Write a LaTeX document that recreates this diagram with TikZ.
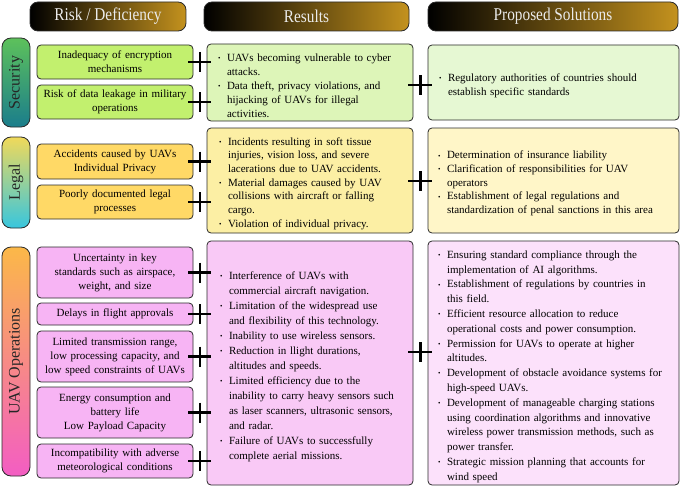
\documentclass[tikz,border=0pt]{standalone}
\usepackage{fontspec}
\setmainfont{Liberation Serif}
\newfontfamily\headfont[FakeStretch=0.85]{Liberation Serif}
\usetikzlibrary{calc}
\definecolor{rS}{HTML}{C2F06E}
\definecolor{mS}{HTML}{DDF5B8}
\definecolor{sS}{HTML}{E6F8D3}
\definecolor{rL}{HTML}{FFD966}
\definecolor{mL}{HTML}{FCEFA4}
\definecolor{sL}{HTML}{FFF6C8}
\definecolor{rU}{HTML}{F7B4F4}
\definecolor{mU}{HTML}{F9C9F6}
\definecolor{sU}{HTML}{FCE1FB}
\definecolor{gold}{HTML}{C4921E}
\definecolor{edge}{HTML}{2A2A2A}
\definecolor{bSt}{HTML}{5DC15B}
\definecolor{bSb}{HTML}{1A7D8C}
\definecolor{bLt}{HTML}{F0D95A}
\definecolor{bLb}{HTML}{38C6DE}
\definecolor{bUt}{HTML}{FBB848}
\definecolor{bUb}{HTML}{F35DC3}
\newcommand\nl{\hfil\break}
\newcommand\bitem[1]{\par\noindent\makebox[9pt][l]{\raisebox{0.15ex}{\scriptsize\textbullet}}%
  \parbox[t]{\dimexpr\hsize-9pt\relax}{\raggedright #1\par\xdef\savedpd{\the\prevdepth}}%
  \par\prevdepth=\savedpd\relax}
\newcommand\bend{\par\vskip6pt}
\tikzset{
  box/.style={draw=edge, line width=0.8pt, rounded corners=4pt, inner sep=0pt},
  riskbox/.style={box, minimum width=156pt, text width=150pt, align=center,
     font=\fontsize{11}{14}\selectfont},
  listbox/.style={box, align=left, font=\fontsize{11}{14}\selectfont},
  band/.style={draw=edge, line width=0.8pt, rounded corners=9pt, minimum width=28pt, inner sep=0pt},
  bandtext/.style={rotate=90, font=\fontsize{16}{18}\selectfont, text=black!85},
  head/.style={draw=edge, line width=0.8pt, rounded corners=8pt, minimum height=29pt, inner sep=0pt,
     left color=black, right color=gold, text=black!8, font=\headfont\fontsize{18}{20}\selectfont},
  cross/.style={line width=2.2pt, black},
}
\begin{document}
\begin{tikzpicture}[x=1pt,y=-1pt]
\useasboundingbox (0,0) rectangle (685,487);
% headers
\node[head, minimum width=156pt] (h1) at (108,16.5) {Risk / Deficiency};
\node[head, minimum width=205pt] (h2) at (306.5,16.5) {Results};
\node[head, minimum width=250pt] (h3) at (553,16.5) {Proposed Solutions};
% bands
\node[band, minimum height=89pt, top color=bSt, bottom color=bSb] (bS) at (16,82.5) {};
\node[bandtext] at (bS.center) {Security};
\node[band, minimum height=91pt, top color=bLt, bottom color=bLb] (bL) at (16,182.5) {};
\node[bandtext] at (bL.center) {Legal};
\node[band, minimum height=229pt, top color=bUt, bottom color=bUb] (bU) at (16,361.5) {};
\node[bandtext] at (bU.center) {UAV Operations};
% risk boxes
\node[riskbox, fill=rS, minimum height=34pt] (r1) at (115,62) {Inadequacy of encryption\\mechanisms};
\node[riskbox, fill=rS, minimum height=34pt] (r2) at (115,102) {Risk of data leakage in military\\operations};
\node[riskbox, fill=rL, minimum height=35pt] (r3) at (115,161.5) {Accidents caused by UAVs\\Individual Privacy};
\node[riskbox, fill=rL, minimum height=34pt] (r4) at (115,202) {Poorly documented legal\\processes};
\node[riskbox, fill=rU, minimum height=51pt] (r5) at (115,272.5) {Uncertainty in key\\standards such as airspace,\\weight, and size};
\node[riskbox, fill=rU, minimum height=22pt] (r6) at (115,314) {Delays in flight approvals};
\node[riskbox, fill=rU, minimum height=51pt] (r7) at (115,356.5) {Limited transmission range,\\low processing capacity, and\\low speed constraints of UAVs};
\node[riskbox, fill=rU, minimum height=51pt] (r8) at (115,412.5) {Energy consumption and\\battery life\\Low Payload Capacity};
\node[riskbox, fill=rU, minimum height=34pt] (r9) at (115,461) {Incompatibility with adverse\\meteorological conditions};
% results
\node[listbox, fill=mS, minimum width=206pt, minimum height=77pt, text width=184pt] (m1) at (310,82.5) {%
\bitem{UAVs becoming vulnerable to cyber\nl attacks.}
\bitem{Data theft, privacy violations, and\nl hijacking of UAVs for illegal\nl activities.}\bend};
\node[listbox, fill=mL, minimum width=206pt, minimum height=105pt, text width=182pt, font=\fontsize{11}{13.7}\selectfont] (m2) at (310,180.5) {%
\bitem{Incidents resulting in soft tissue\nl injuries, vision loss, and severe\nl lacerations due to UAV accidents.}
\bitem{Material damages caused by UAV\nl collisions with aircraft or falling\nl cargo.}
\bitem{Violation of individual privacy.}\bend};
\node[listbox, fill=mU, minimum width=206pt, minimum height=244pt, text width=180pt, font=\fontsize{11}{15}\selectfont] (m3) at (310,363) {%
\bitem{Interference of UAVs with\nl commercial aircraft navigation.}
\bitem{Limitation of the widespread use\nl and flexibility of this technology.}
\bitem{Inability to use wireless sensors.}
\bitem{Reduction in llight durations,\nl altitudes and speeds.}
\bitem{Limited efficiency due to the\nl inability to carry heavy sensors such\nl as laser scanners, ultrasonic sensors,\nl and radar.}
\bitem{Failure of UAVs to successfully\nl complete aerial missions.}\bend};
% solutions
\node[listbox, fill=sS, minimum width=251pt, minimum height=75pt, text width=229pt] (s1) at (553.5,82.5) {%
\bitem{Regulatory authorities of countries should\nl establish specific standards}\bend};
\node[listbox, fill=sL, minimum width=251pt, minimum height=105pt, text width=231pt, font=\fontsize{11}{13.7}\selectfont] (s2) at (553.5,180.5) {%
\bitem{Determination of insurance liability}
\bitem{Clarification of responsibilities for UAV\nl operators}
\bitem{Establishment of legal regulations and\nl standardization of penal sanctions in this area}\bend};
\node[listbox, fill=sU, minimum width=251pt, minimum height=244pt, text width=231pt, font=\fontsize{11}{14.8}\selectfont] (s3) at (553.5,363) {%
\bitem{Ensuring standard compliance through the\nl implementation of AI algorithms.}
\bitem{Establishment of regulations by countries in\nl this field.}
\bitem{Efficient resource allocation to reduce\nl operational costs and power consumption.}
\bitem{Permission for UAVs to operate at higher\nl altitudes.}
\bitem{Development of obstacle avoidance systems for\nl high-speed UAVs.}
\bitem{Development of manageable charging stations\nl using coordination algorithms and innovative\nl wireless power transmission methods, such as\nl power transfer.}
\bitem{Strategic mission planning that accounts for\nl wind speed}\bend};
% connectors
\foreach \a/\b/\dy in {r1/m1/0, r2/m1/0, r3/m2/0, r4/m2/0, r5/m3/0, r6/m3/0, r7/m3/0, r8/m3/0, r9/m3/0, m1/s1/2.5, m2/s2/0.5, m3/s3/-11}{
  \coordinate (p) at ([yshift=-\dy pt]\a.east);
  \coordinate (q) at (p -| \b.west);
  \draw[cross] ([xshift=-5pt]p) -- ([xshift=4pt]q);
  \draw[cross] ($(p)!0.5!(q)$) ++(0,-10) -- ++(0,20);
}
\end{tikzpicture}
\end{document}
